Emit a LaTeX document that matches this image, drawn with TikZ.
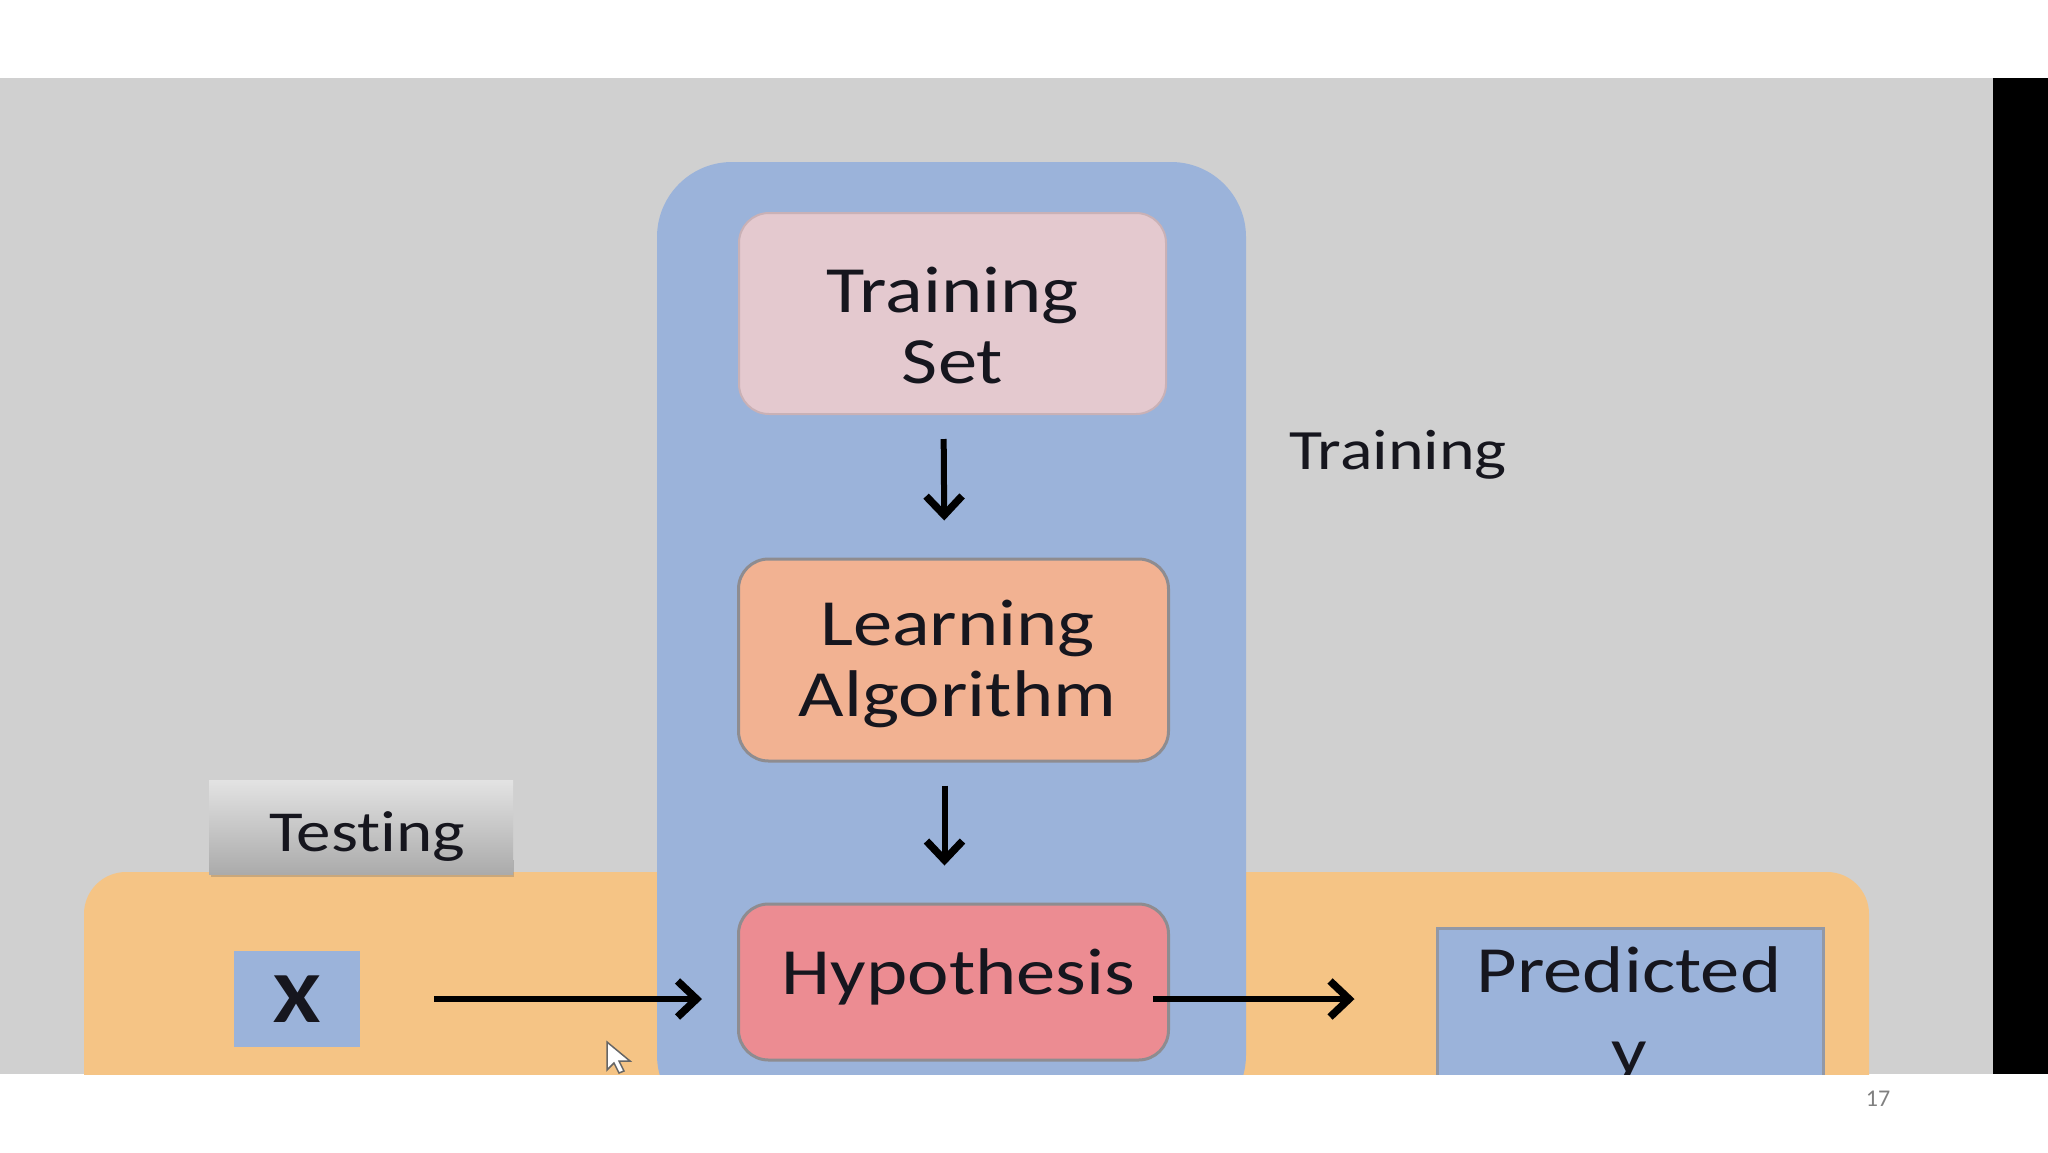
\documentclass[tikz,border=0pt]{standalone}
\usepackage{fontspec}
\setmainfont[FakeStretch=1.19,Ligatures={NoCommon,TeX}]{Carlito}
\newfontfamily\numfont{Carlito}
\usetikzlibrary{arrows.meta}
\definecolor{slidegray}{HTML}{D0D0D0}
\definecolor{panelblue}{HTML}{9BB3DA}
\definecolor{panelorange}{HTML}{F5C485}
\definecolor{setpink}{HTML}{E4C9CF}
\definecolor{algoorange}{HTML}{F2B292}
\definecolor{hyppink}{HTML}{EC8C92}
\definecolor{boxline}{HTML}{8E8C90}
\definecolor{inkdark}{HTML}{16161E}
\tikzset{
  lbl/.style={text=inkdark,font=\fontsize{66}{71}\selectfont,align=center,inner sep=0pt},
  flowbox/.style={rounded corners=30pt,draw=boxline,line width=3pt,minimum width=430pt,inner sep=0pt},
  plainbox/.style={fill=panelblue,inner sep=0pt},
  flow/.style={draw=black,line width=6pt,-{Straight Barb[length=19pt,width=36pt,line width=7.5pt]}}
}
\begin{document}
\begin{tikzpicture}[x=1pt,y=-1pt]
\useasboundingbox (0,0) rectangle (2048,1152);
\fill[white] (0,0) rectangle (2048,1152);
\begin{scope}
\clip (0,78) rectangle (2048,1074);
\fill[slidegray] (0,78) rectangle (1993,1074);
\fill[black] (1993,78) rectangle (2048,1074);
\fill[panelorange,rounded corners=42pt] (84,872) rectangle (1869,1200);
\fill[black!60,opacity=.3] (211,860) rectangle (514,877);
\node[minimum width=304pt,minimum height=94pt,inner sep=0pt,shade,top color=black!11,bottom color=black!33] (testing) at (361,827) {};
\node[lbl,font=\fontsize{58}{71}\selectfont] (testinglbl) at ([xshift=6pt,yshift=-10pt]testing.center) {Testing};
\fill[panelblue,rounded corners=75pt] (657,162) rectangle (1246,1130);
\node[flowbox,fill=setpink,draw=setpink!88!black,line width=2pt,minimum width=427pt,minimum height=201pt] (tset) at (952.5,313.5) {};
\node[lbl] (tsetlbl) at ([yshift=-12pt]tset.center) {Training\\Set};
\node[flowbox,fill=algoorange,minimum height=202pt] (learn) at (953.5,660) {};
\node[lbl] (learnlbl) at ([xshift=4pt,yshift=-4pt]learn.center) {Learning\\Algorithm};
\node[flowbox,fill=hyppink,minimum height=156pt] (hyp) at (953.5,982) {};
\node[lbl] (hyplbl) at ([xshift=5pt,yshift=5pt]hyp.center) {Hypothesis};
\node[plainbox,minimum width=126pt,minimum height=96pt] (xbox) at (297,999) {};
\node[lbl,font=\fontsize{72}{80}\selectfont\bfseries] (xlbl) at (xbox.center) {X};
\node[plainbox,draw=boxline!70!panelblue,line width=3pt,anchor=north,minimum width=386pt,minimum height=220pt] (pred) at (1630,927) {};
\node[lbl] (predlbl) at (1629,1015) {Predicted\\[10pt]y};
\draw[flow,shorten <=24pt,shorten >=37pt] ([xshift=-9pt]tset.south) -- ([xshift=-9pt]learn.north);
\draw[flow,shorten <=23pt,shorten >=37pt] ([xshift=-9pt]learn.south) -- ([xshift=-9pt]hyp.north);
\draw[flow,shorten <=74pt,shorten >=35pt] (xbox.east) -- (xbox.east -| hyp.west);
\draw[flow,shorten <=-17pt,shorten >=81pt] (hyp.east |- xbox.east) -- (pred.west |- xbox.east);
\fill[white,draw=black!60,line width=1.5pt] (607,1042) -- (607,1070) -- (614,1063) -- (619,1073) -- (624,1071) -- (619,1061) -- (630,1061) -- cycle;
\end{scope}
\node[lbl,font=\fontsize{57}{71}\selectfont] (trainlbl) at (1398,455) {Training};
\node[inner sep=0pt,text=black!50,font=\numfont\fontsize{24}{28}\selectfont] (pagenum) at (1878,1099) {17};
\end{tikzpicture}
\end{document}
